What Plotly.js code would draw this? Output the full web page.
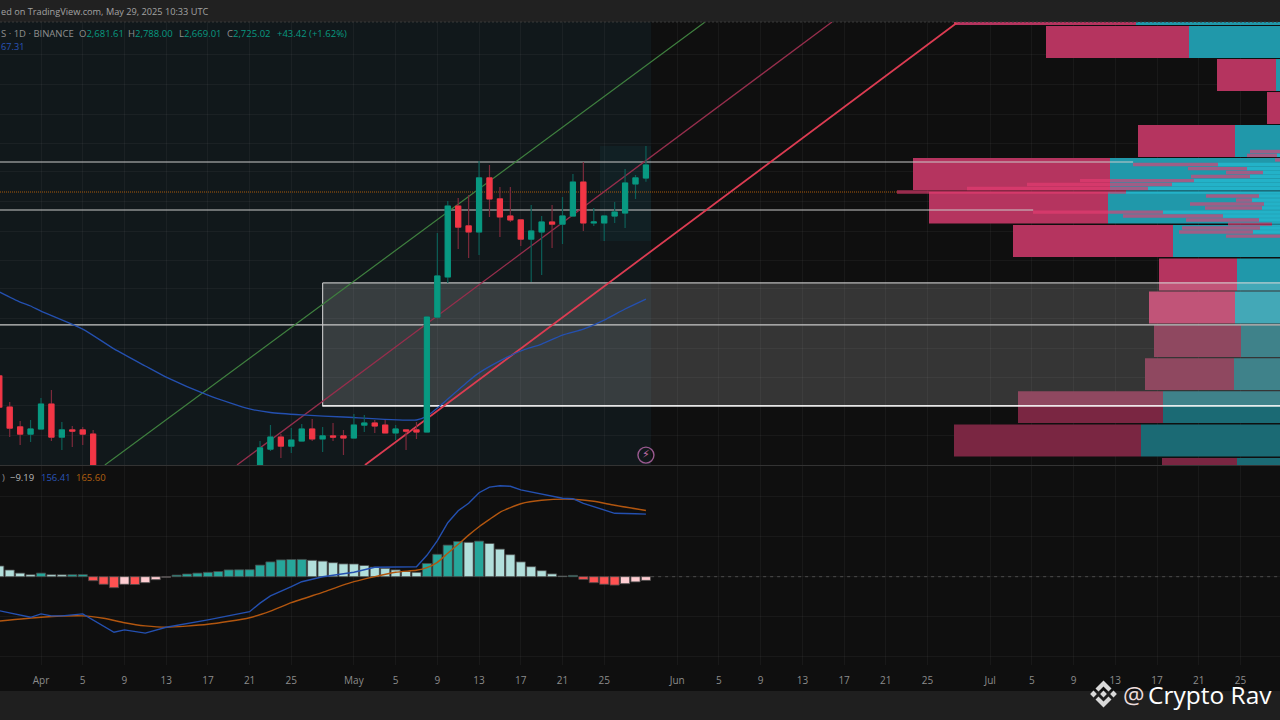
<!DOCTYPE html>
<html><head><meta charset="utf-8">
<script src="https://cdn.plot.ly/plotly-3.0.1.min.js"></script>
<style>html,body{margin:0;padding:0;background:#0f0f0f;overflow:hidden}#chart{width:1280px;height:720px}</style>
</head><body><div id="chart"></div>
<script>
// ---------- candles ----------
const candleDates = ["2025-03-28","2025-03-29","2025-03-30","2025-03-31","2025-04-01","2025-04-02","2025-04-03","2025-04-04","2025-04-05","2025-04-06",
"2025-04-22","2025-04-23","2025-04-24","2025-04-25","2025-04-26","2025-04-27","2025-04-28","2025-04-29","2025-04-30","2025-05-01","2025-05-02","2025-05-03","2025-05-04","2025-05-05","2025-05-06","2025-05-07","2025-05-08","2025-05-09","2025-05-10","2025-05-11","2025-05-12","2025-05-13","2025-05-14","2025-05-15","2025-05-16","2025-05-17","2025-05-18","2025-05-19","2025-05-20","2025-05-21","2025-05-22","2025-05-23","2025-05-24","2025-05-25","2025-05-26","2025-05-27","2025-05-28","2025-05-29"];
const candleOpen  = [2022,1918,1852,1828,1845,1928,1818,1842,1842,1828,
1718,1778,1818,1788,1805,1845,1812,1822,1822,1815,1858,1865,1858,1832,1842,1842,1835,2218,2352,2588,2522,2502,2682,2612,2555,2542,2478,2502,2535,2528,2555,2668,2532,2532,2555,2565,2662,2681.61];
const candleHigh  = [2035,1935,1872,1875,1948,1975,1868,1855,1852,1842,
1805,1858,1828,1848,1862,1878,1852,1865,1842,1895,1892,1875,1875,1858,1842,1868,2222,2498,2605,2615,2625,2738,2725,2652,2652,2542,2592,2555,2592,2618,2695,2735,2582,2555,2602,2712,2692,2788];
const candleLow   = [1915,1818,1792,1802,1845,1805,1775,1785,1792,1705,
1700,1772,1748,1765,1805,1805,1768,1805,1758,1815,1835,1832,1832,1808,1775,1812,1835,2218,2332,2445,2415,2425,2552,2485,2535,2455,2335,2358,2448,2462,2555,2505,2522,2472,2532,2515,2612,2669.01];
const candleClose = [1918,1848,1828,1845,1928,1818,1842,1838,1828,1718,
1782,1818,1788,1808,1845,1812,1822,1818,1815,1858,1865,1855,1832,1845,1838,1835,2218,2355,2588,2518,2502,2682,2612,2552,2542,2478,2505,2535,2528,2555,2668,2532,2535,2555,2568,2665,2682,2725.02];

// ---------- moving average on the price pane ----------
const maDates = ["2025-03-28","2025-03-30","2025-03-31","2025-04-01","2025-04-05","2025-04-08","2025-04-11","2025-04-13","2025-04-17","2025-04-21","2025-04-23","2025-04-26","2025-04-30","2025-05-07","2025-05-08","2025-05-09","2025-05-10","2025-05-11","2025-05-12","2025-05-13","2025-05-15","2025-05-17","2025-05-19","2025-05-21","2025-05-23","2025-05-25","2025-05-27","2025-05-29"];
const maValues = [2302,2268,2255,2238,2178,2112,2055,2018,1958,1912,1900,1892,1885,1875,1888,1915,1945,1975,2005,2032,2072,2105,2128,2158,2178,2208,2245,2278];

// ---------- channel lines ----------
const channelDates = {
  green:  ["2025-04-07 03:00","2025-06-03 16:00"],
  maroon: ["2025-04-19 19:00","2025-06-15 20:00"],
  red:    ["2025-05-02 01:30","2025-06-27 22:00"]
};
const channelPrices = [1725, 3201.7];

// ---------- horizontal levels and the zone box ----------
const axisStart = "2025-03-28 01:40", axisEnd = "2025-07-28 19:00";
const levelPrices = [2735, 2575, 2192];
const levelEnds   = ["2025-07-14 17:00","2025-07-05 03:00",axisEnd];
const zoneDates   = ["2025-04-28", "2025-08-15"];
const zonePrices  = [1922, 2332];
const lastPrice = 2635, lastPriceEnd = "2025-06-22 05:00";
const shadeEnd = "2025-05-29 12:00";
const focusDates = ["2025-05-24 14:00", shadeEnd], focusPrices = [2472, 2788];
const priceGrid = [3092,2995,2895,2798,2702,2605,2505,2408,2312,2212,2112,2018,1922,1822];

// ---------- volume profile, coarse rows ----------
const vpPrice = [3245,3135,3025,2915,2805,2695,2583,2472,2360,2250,2138,2028,1918,1807,1695];
const vpUp    = [144,91,4,0,45,170,172,107,43,45,39,46,117,139,43];
const vpDown  = [182,143,59,13,97,197,179,160,78,86,87,89,145,187,75];
const vpBrightAbove = 2192;

// ---------- volume profile, fine rows ----------
const vfPrice = [2770,2757,2742,2727,2713,2700,2687,2673,2660,2647,2635,2622,2608,2595,2582,2568,2555,2542,2528,2515,2502,2488];
const vfUp    = [0,3,0,62,33,17,30,86,108,132,154,21,28,16,18,117,57,21,8,20,27,0];
const vfDown  = [30,30,5,85,59,37,59,114,145,181,229,53,16,74,57,130,100,73,44,78,74,54];

// ---------- MACD pane ----------
const histDates = ["2025-03-28","2025-03-29","2025-03-30","2025-03-31","2025-04-01","2025-04-02","2025-04-03","2025-04-04","2025-04-05","2025-04-06","2025-04-07","2025-04-08","2025-04-09","2025-04-10","2025-04-11","2025-04-12","2025-04-13","2025-04-14","2025-04-15","2025-04-16","2025-04-17","2025-04-18","2025-04-19","2025-04-20","2025-04-21","2025-04-22","2025-04-23","2025-04-24","2025-04-25","2025-04-26","2025-04-27","2025-04-28","2025-04-29","2025-04-30","2025-05-01","2025-05-02","2025-05-03","2025-05-04","2025-05-05","2025-05-06","2025-05-07","2025-05-08","2025-05-09","2025-05-10","2025-05-11","2025-05-12","2025-05-13","2025-05-14","2025-05-15","2025-05-16","2025-05-17","2025-05-18","2025-05-19","2025-05-20","2025-05-21","2025-05-22","2025-05-23","2025-05-24","2025-05-25","2025-05-26","2025-05-27","2025-05-28","2025-05-29"];
const histValues = [26.7,16.7,9,5,9,5,4.8,5,5.2,-10,-19,-27.5,-19,-19.5,-15,-7.5,-1.5,4,6.7,9,11,13,17,17.3,17.6,29,37,42,43,43.2,41,39,35,32,31.8,28,24,21,17,13,11,33,56,79,88,86,89,83,69,55,37,25,15,7,1.7,3.3,-6.7,-15,-19,-21,-17.5,-13,-9.19];
const macdDates = ["2025-03-28","2025-03-31","2025-04-01","2025-04-02","2025-04-03","2025-04-04","2025-04-05","2025-04-08","2025-04-09","2025-04-11","2025-04-13","2025-04-17","2025-04-21","2025-04-22","2025-04-23","2025-04-25","2025-04-26","2025-04-28","2025-05-01","2025-05-03","2025-05-07","2025-05-08","2025-05-09","2025-05-10","2025-05-11","2025-05-12","2025-05-13","2025-05-14","2025-05-15","2025-05-16","2025-05-17","2025-05-21","2025-05-22","2025-05-23","2025-05-25","2025-05-26","2025-05-28","2025-05-29"];
const macdValues = [-85,-101.5,-93,-98,-98,-95,-93,-139,-133,-141,-126.5,-108,-87.5,-66,-48,-25,-12.5,0,11,23.5,25,53.5,90,135,165,183.5,210,224,227.5,226,217,196,195,183.5,167,158.5,157.5,156.41];
const signalDates = ["2025-03-28","2025-04-01","2025-04-05","2025-04-07","2025-04-09","2025-04-11","2025-04-13","2025-04-17","2025-04-21","2025-04-23","2025-04-25","2025-04-28","2025-05-01","2025-05-05","2025-05-07","2025-05-08","2025-05-09","2025-05-10","2025-05-11","2025-05-12","2025-05-13","2025-05-14","2025-05-15","2025-05-16","2025-05-17","2025-05-19","2025-05-22","2025-05-24","2025-05-26","2025-05-29"];
const signalValues = [-111,-101.5,-98,-104,-115,-123,-126.5,-119,-102.5,-86,-65,-39,-12.5,11,16,22.5,36,58.5,81,104,125,143.5,161,172.5,182.5,191,193.5,188.5,178.5,165.6];
const zeroLineDates = ["2025-05-29 12:00", axisEnd];

// ---------- ticks ----------
const tickDates = ["2025-04-01","2025-04-05","2025-04-09","2025-04-13","2025-04-17","2025-04-21","2025-04-25","2025-05-01","2025-05-05","2025-05-09","2025-05-13","2025-05-17","2025-05-21","2025-05-25","2025-06-01","2025-06-05","2025-06-09","2025-06-13","2025-06-17","2025-06-21","2025-06-25","2025-07-01","2025-07-05","2025-07-09","2025-07-13","2025-07-17","2025-07-21","2025-07-25"];
const tickLabels = ["Apr","5","9","13","17","21","25","May","5","9","13","17","21","25","Jun","5","9","13","17","21","25","Jul","5","9","13","17","21","25"];

// ---------- texts ----------
const publishedText = "ed on TradingView.com, May 29, 2025 10:33 UTC";
const tickerText = "S · 1D · BINANCE";
const ohlcLabels = ["O","H","L","C"];
const ohlcTexts = ["2,681.61","2,788.00","2,669.01","2,725.02"];
const changeText = "+43.42 (+1.62%)";
const maText = "67.31";
const macdTexts = [")", "−9.19", "156.41", "165.60"];
const watermarkAt = "@", watermarkName = "Crypto Rav";

// ---------- colours ----------
const UP="#089981", DOWN="#f23645", UP_WICK="#0c5e57", DOWN_WICK="#7c2a3b";
const GREY="#8f8f8f", FONT="'Open Sans', sans-serif";
const histColors = histValues.map((v,i)=>{
  const rising = i>0 && v>histValues[i-1];
  if(v>=0) return rising?"#26a69a":"#b2dfdb";
  return rising?"#ffcdd2":"#ff5252";
});

const noHover={hoverinfo:"skip",showlegend:false};
const candleCommon={type:"candlestick",xaxis:"x3",yaxis:"y",x:candleDates,...noHover,whiskerwidth:0};
const bodyHigh=candleOpen.map((o,i)=>Math.max(o,candleClose[i]));
const bodyLow=candleOpen.map((o,i)=>Math.min(o,candleClose[i]));
const line=(x,y,color,width,extra)=>({type:"scatter",mode:"lines",x,y,line:{color,width,...(extra||{})},xaxis:"x2",yaxis:"y",...noHover});

const traces=[
  // volume profile on its own reversed axis
  {type:"bar",orientation:"h",xaxis:"x",yaxis:"y",y:vpPrice,x:vpDown,base:vpUp,width:106.5,
   marker:{color:vpPrice.map(p=>p>vpBrightAbove?"#b5345f":"#7a2642"),line:{width:0}},...noHover},
  {type:"bar",orientation:"h",xaxis:"x",yaxis:"y",y:vpPrice,x:vpUp,width:106.5,
   marker:{color:vpPrice.map(p=>p>vpBrightAbove?"#2098aa":"#1b6a74"),line:{width:0}},...noHover},
  {type:"bar",orientation:"h",xaxis:"x",yaxis:"y",y:vfPrice,x:vfDown,base:vfUp,width:11.5,
   marker:{color:"rgba(232,61,114,.64)",line:{width:0}},...noHover},
  {type:"bar",orientation:"h",xaxis:"x",yaxis:"y",y:vfPrice,x:vfUp,width:11.5,
   marker:{color:"rgba(38,195,220,.6)",line:{width:0}},...noHover},
  // zone box
  {type:"scatter",mode:"lines",xaxis:"x2",yaxis:"y",fill:"toself",fillcolor:"rgba(255,255,255,.16)",
   x:[zoneDates[0],zoneDates[1],zoneDates[1],zoneDates[0],zoneDates[0]],
   y:[zonePrices[1],zonePrices[1],zonePrices[0],zonePrices[0],zonePrices[1]],
   line:{color:"rgba(215,215,215,.85)",width:1.2},...noHover},
  line([zoneDates[0],zoneDates[1]],[zonePrices[0],zonePrices[0]],"#ffffff",1.3),
  // levels
  ...levelPrices.map((p,i)=>line([axisStart,levelEnds[i]],[p,p],"#c9c9c9",1.1)),
  line([axisStart,lastPriceEnd],[lastPrice,lastPrice],"#a85a0c",1,{dash:"1px 1px"}),
  // channel
  line(channelDates.green,channelPrices,"#3f803f",1.2),
  line(channelDates.maroon,channelPrices,"#962e4c",1.3),
  line(channelDates.red,channelPrices,"#dc3c52",1.8),
  line(maDates,maValues,"#2450b0",1.3,{shape:"spline",smoothing:0.6}),
  // candles: wicks, then bodies
  {...candleCommon,open:candleOpen,high:candleHigh,low:candleLow,close:candleClose,
   increasing:{line:{color:UP_WICK,width:1.2},fillcolor:UP},decreasing:{line:{color:DOWN_WICK,width:1.2},fillcolor:DOWN}},
  {...candleCommon,open:candleOpen,high:bodyHigh,low:bodyLow,close:candleClose,
   increasing:{line:{color:UP,width:1},fillcolor:UP},decreasing:{line:{color:DOWN,width:1},fillcolor:DOWN}},
  // alert badge
  {type:"scatter",mode:"markers+text",xaxis:"x3",yaxis:"y",x:["2025-05-29"],y:[1758],text:["⚡"],textposition:"middle center",
   textfont:{color:"#c070a8",size:11,family:"DejaVu Sans"},
   marker:{symbol:"circle-open",size:16,color:"#9a5a90",line:{width:1.4,color:"#9a5a90"}},...noHover},
  // MACD
  {type:"bar",xaxis:"x4",yaxis:"y2",x:histDates,y:histValues,width:76000000,
   marker:{color:histColors,line:{color:"#4a4a4a",width:0.8}},...noHover},
  {type:"scatter",mode:"lines",xaxis:"x4",yaxis:"y2",x:zeroLineDates,y:[0,0],line:{color:"#4d4d4d",width:1,dash:"3px 4px"},...noHover},
  {type:"scatter",mode:"lines",xaxis:"x4",yaxis:"y2",x:signalDates,y:signalValues,line:{color:"#b2560f",width:1.4,shape:"spline",smoothing:0.6},...noHover},
  {type:"scatter",mode:"lines",xaxis:"x4",yaxis:"y2",x:macdDates,y:macdValues,line:{color:"#2450b0",width:1.4},...noHover}
];

const dateAxis=(extra)=>({type:"date",range:[axisStart,axisEnd],tickmode:"array",tickvals:tickDates,ticktext:tickLabels,
  showticklabels:false,ticks:"",showgrid:true,gridcolor:"rgba(255,255,255,.045)",gridwidth:1,zeroline:false,showline:false,fixedrange:true,
  rangeslider:{visible:false},...extra});

const txt=(x,y,text,color,size,extra)=>({xref:"paper",yref:"paper",x,y,xanchor:"left",yanchor:"middle",text,showarrow:false,
  font:{family:FONT,size,color},align:"left",borderpad:0,...(extra||{})});
const py=v=>1-v/720, px=v=>v/1280;
const span=(c,t)=>`<span style="color:${c}">${t}</span>`;

const annotations=[
  txt(px(0),py(11.5),publishedText,"#a3a3a3",9.2),
  txt(px(0),py(33.5),tickerText,GREY,9.5),
  ...ohlcLabels.map((l,i)=>txt(px([78,127,178,226][i]),py(33.5),span(GREY,l)+span(UP,ohlcTexts[i]),UP,9.5)),
  txt(px(276),py(33.5),changeText,UP,9.5),
  txt(px(0),py(47),maText,"#2a55b8",9.2),
  txt(px(1),py(477),macdTexts[0],GREY,9.5),
  txt(px(9),py(477),macdTexts[1],"#b8b8b8",9.5),
  txt(px(40),py(477),macdTexts[2],"#2a55b8",9.5),
  txt(px(75),py(477),macdTexts[3],"#b2600f",9.5),
  txt(px(1122),py(694),watermarkAt,"#ecdcdc",24),
  txt(px(1147),py(694),watermarkName,"#ffffff",24.5)
];

const rect=(x0,x1,y0,y1,fill,layer)=>({type:"rect",xref:"paper",yref:"paper",x0:px(x0),x1:px(x1),y0:py(y1),y1:py(y0),fillcolor:fill,line:{width:0},layer:layer||"below"});
const iconShapes=[
  "M0,13.5 L8,5.5 L5,2.5 L0,7.5 L-5,2.5 L-8,5.5 Z",
  "M0,-13.5 L8,-5.5 L5,-2.5 L0,-7.5 L-5,-2.5 L-8,-5.5 Z",
  "M0,3.4 L3.4,0 L0,-3.4 L-3.4,0 Z",
  "M-10,3.4 L-6.6,0 L-10,-3.4 L-13.4,0 Z",
  "M10,3.4 L13.4,0 L10,-3.4 L6.6,0 Z"
].map(path=>({type:"path",path,xref:"paper",yref:"paper",xsizemode:"pixel",ysizemode:"pixel",xanchor:px(1103.5),yanchor:py(694),fillcolor:"#d9d9d9",line:{width:0},layer:"above"}));

const shapes=[
  rect(0,1280,0,22,"#212121"),
  rect(0,1280,691,720,"#1f1f1f"),
  {type:"rect",xref:"x2",yref:"y domain",x0:axisStart,x1:shadeEnd,y0:0,y1:1,fillcolor:"#11181b",line:{width:0},layer:"below"},
  {type:"rect",xref:"x2",yref:"y",x0:focusDates[0],x1:focusDates[1],y0:focusPrices[0],y1:focusPrices[1],fillcolor:"rgba(20,110,120,.1)",line:{width:0},layer:"below"},
  {type:"line",xref:"paper",yref:"paper",x0:0,x1:1,y0:py(465.5),y1:py(465.5),line:{color:"#333333",width:1},layer:"above"},
  {type:"line",xref:"paper",yref:"paper",x0:0,x1:1,y0:py(22),y1:py(22),line:{color:"#3a3a3a",width:1,dash:"2px 2px"},layer:"above"},
  ...iconShapes
];

const layout={
  width:1280,height:720,margin:{l:0,r:0,t:0,b:0,pad:0},
  paper_bgcolor:"#0f0f0f",plot_bgcolor:"rgba(0,0,0,0)",showlegend:false,
  barmode:"overlay",hovermode:false,dragmode:false,
  xaxis:{domain:[0,1],range:[1280,0],anchor:"y",showgrid:false,zeroline:false,showticklabels:false,ticks:"",showline:false,fixedrange:true},
  xaxis2:dateAxis({overlaying:"x",anchor:"y"}),
  xaxis3:dateAxis({overlaying:"x",anchor:"y",showgrid:false}),
  xaxis4:dateAxis({anchor:"y2",showticklabels:true,ticks:"outside",ticklen:6,tickcolor:"rgba(0,0,0,0)",
    tickfont:{family:FONT,size:10,color:"#8c8c8c"},tickangle:0}),
  yaxis:{domain:[py(465),py(22)],range:[1725,3201.7],anchor:"x",tickmode:"array",tickvals:priceGrid,showticklabels:false,ticks:"",
    showgrid:true,gridcolor:"rgba(255,255,255,.045)",zeroline:false,showline:false,fixedrange:true},
  yaxis2:{domain:[py(665),py(466)],range:[-220.75,276.75],anchor:"x4",tick0:0,dtick:100,showticklabels:false,ticks:"",
    showgrid:true,gridcolor:"rgba(255,255,255,.045)",zeroline:false,showline:false,fixedrange:true},
  annotations,shapes
};
Plotly.newPlot("chart",traces,layout,{displayModeBar:false,staticPlot:true});
</script></body></html>
